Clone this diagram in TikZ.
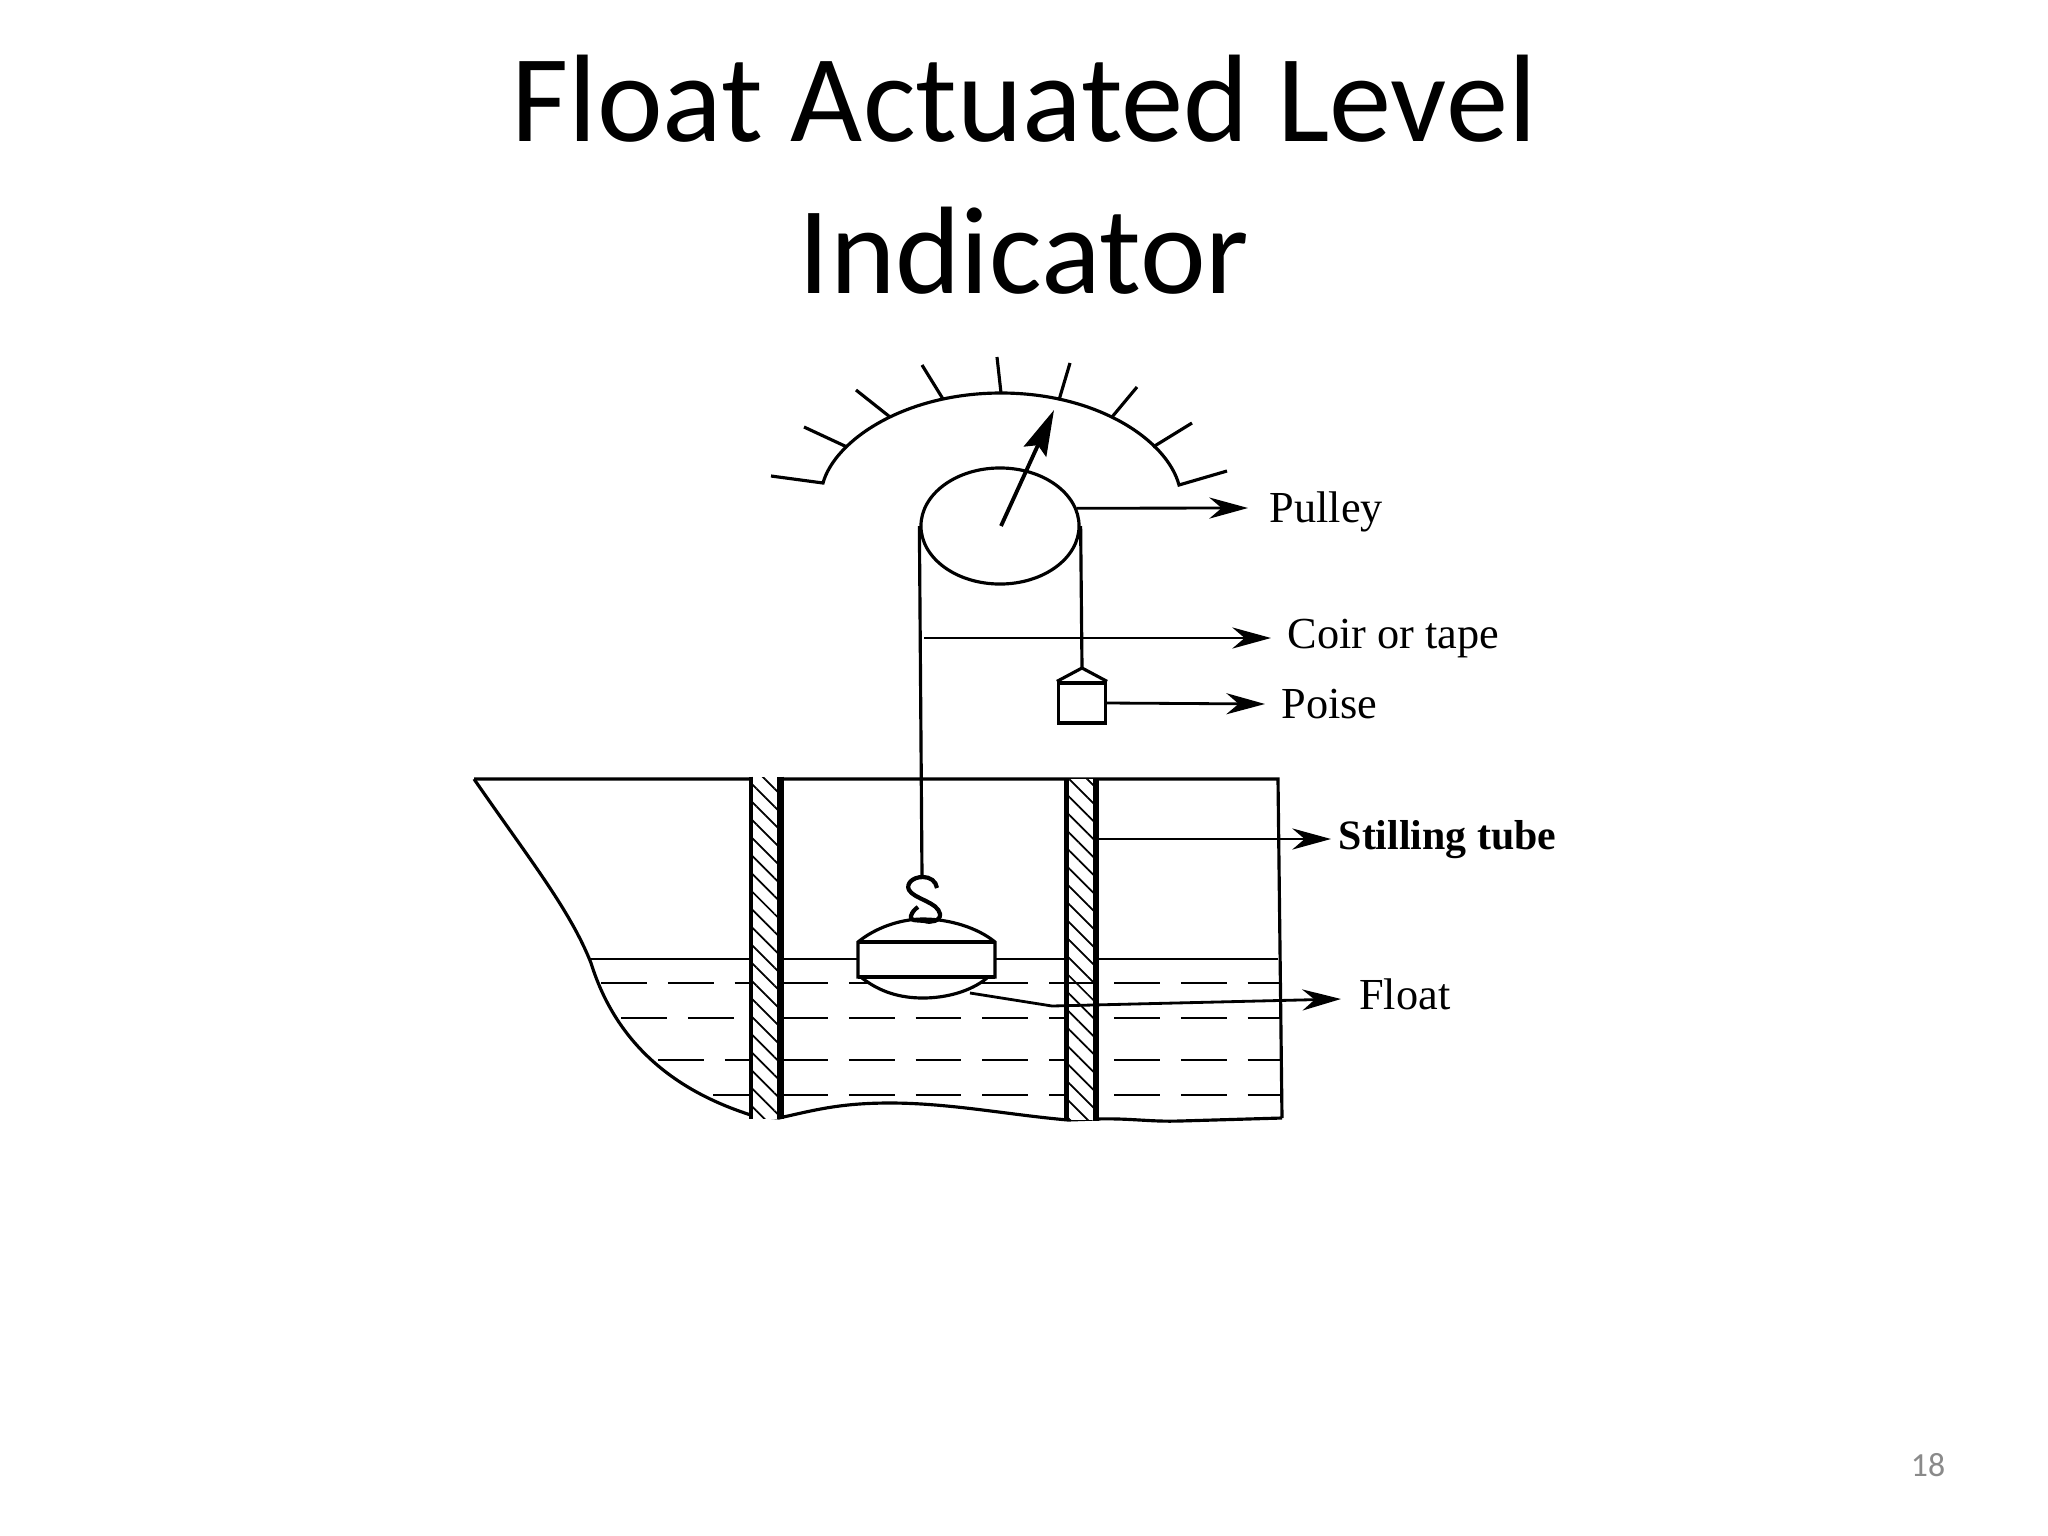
\documentclass[tikz,border=0pt]{standalone}
\usepackage{fontspec}
\setmainfont{Carlito}
\newfontfamily\partfont{Liberation Serif}
\usetikzlibrary{patterns.meta, arrows.meta, shapes.geometric}
\tikzset{
    sketch/.style={line width=0.9pt},
    waterdash/.style={line width=0.8pt, dash pattern=on 13pt off 6pt},
    partarrow/.style={line width=0.8pt, -{Stealth[length=11pt, width=6pt, inset=3.5pt]}},
    partlabel/.style={anchor=west, inner ysep=0pt, inner xsep=#1, text height=8.5pt, text depth=2.5pt,
        font=\partfont\fontsize{12.6}{15}\selectfont},
    tubebox/.style={minimum width=0.28cm, minimum height=3.41cm, inner sep=0pt, preaction={fill=white},
        pattern={Lines[angle=-45, distance=3.6pt, line width=0.5pt]}},
}

\begin{document}
\begin{tikzpicture}[x=0.01cm, y=-0.01cm]
    \fill[white] (0,0) rectangle (2048,1536);
    \useasboundingbox (0,0) rectangle (2048,1536);

    \node[align=center, font=\fontsize{35.4}{43.2}\selectfont] (title) at (1024,175) {Float Actuated Level\\Indicator};
    \node[text=black!46, font=\fontsize{9.6}{12}\selectfont] (pagenum) at (1928,1465) {18};

    \draw[sketch] (771,476) -- (823,483) .. controls (835,440) and (905,393) .. (1001,393) .. controls (1097,393) and (1167,440) .. (1179,485) -- (1227,471);
    \foreach \xa/\ya/\xb/\yb in {804/427/847/447, 856/390/890/417, 922/365/943/399, 997/357/1001/393, 1070/363/1059/400, 1137/387/1112/417, 1192/423/1153/447}
        \draw[sketch] (\xa,\ya) -- (\xb,\yb);

    \node[draw, sketch, ellipse, minimum width=1.58cm, minimum height=1.16cm, inner sep=0pt] (pulley) at (1000,526) {};
    \coordinate (pivot) at (1001,526);
    \coordinate (needletip) at (1054,410);
    \draw[line width=1.1pt, -{Stealth[length=13pt, width=7pt, inset=2pt]}] (pivot) -- (needletip);

    \node[draw, sketch, minimum width=0.47cm, minimum height=0.40cm, inner sep=0pt] (poise) at (1082,703) {};
    \coordinate (apex) at (1082,668);
    \draw[sketch] (poise.north west) -- (apex) -- (poise.north east);
    \draw[sketch] (pulley.east) -- (apex);

    \coordinate (hooktop) at (922,876);
    \draw[sketch] (pulley.west) -- (hooktop);
    \coordinate (coirstart) at (924,638);

    \foreach \ypos/\xstart in {983/601, 1018/621, 1060/658, 1095/713} {
        \draw[waterdash] (\xstart,\ypos) -- (752,\ypos);
        \draw[waterdash] (782,\ypos) -- (1068,\ypos);
        \draw[waterdash] (1114,\ypos) -- (1280,\ypos);
    }
    \draw[line width=0.8pt] (589,959) -- (1278,959);

    \draw[sketch] (474,779) -- (1278,779) -- (1282,1118);
    \draw[sketch] (474,779) .. controls (530,860) and (570,910) .. (591,963) .. controls (615,1040) and (670,1090) .. (754,1116);
    \draw[sketch] (754,1116) -- (779,1118) .. controls (815,1110) and (840,1103) .. (890,1103) .. controls (950,1103) and (1010,1115) .. (1068,1120);
    \draw[sketch] (1068,1120) -- (1096,1119) .. controls (1130,1118) and (1150,1122) .. (1180,1121) -- (1282,1118);

    \node[tubebox] (tubeleft) at (765.5,948) {};
    \node[tubebox] (tuberight) at (1081,949.5) {};
    \draw[line width=1.2pt] (tubeleft.north west) -- (tubeleft.south west);
    \draw[line width=1.8pt] (tubeleft.north east) -- (tubeleft.south east);
    \draw[line width=1.5pt] (tuberight.north west) -- (tuberight.south west);
    \draw[line width=1.6pt] (tuberight.north east) -- (tuberight.south east);
    \draw[waterdash] (1068,983) -- (1095,983);

    \draw[sketch, fill=white] (858,977) -- (858,942) .. controls (875,928) and (900,919) .. (923,919) .. controls (950,919) and (978,928) .. (995,942) -- (995,977) -- cycle;
    \draw[sketch] (858,942) -- (995,942);
    \draw[sketch, fill=white] (862,978) .. controls (880,992) and (900,998) .. (923,998) .. controls (945,998) and (970,992) .. (987,978);
    \draw[line width=1.4pt] (858,977) -- (995,977);
    \draw[line width=1.2pt] (937,888) .. controls (936,881) and (930,877) .. (923,877) .. controls (912,877) and (906,884) .. (909,890) .. controls (914,899) and (938,902) .. (940,914) .. controls (941,921) and (930,923) .. (925,921) .. controls (916,920) and (909,921) .. (911,916) .. controls (912,912) and (915,909) .. (918,907);

    \node[partlabel=6pt, text height=10.5pt] (pulleylabel) at (1248,508) {Pulley};
    \node[partlabel=4.5pt] (coirlabel) at (1271,638) {Coir or tape};
    \node[partlabel=4.5pt, text height=10.5pt] (poiselabel) at (1265,704) {Poise};
    \node[partlabel=2pt, font=\partfont\bfseries\fontsize{11.9}{15}\selectfont] (stillinglabel) at (1331,839) {Stilling tube};
    \node[partlabel=5pt] (floatlabel) at (1341,999) {Float};

    \draw[partarrow] (pulley.13) -- (pulleylabel.west);
    \draw[partarrow] (coirstart) -- (coirlabel.west);
    \draw[partarrow] (poise.east) -- (poiselabel.west);
    \draw[partarrow] (tuberight.east |- stillinglabel.west) -- (stillinglabel.west);
    \coordinate (floatedge) at (970,993);
    \coordinate (floatbend) at (1052,1006);
    \draw[partarrow] (floatedge) -- (floatbend) -- (1134,1004) -- (floatlabel.west);
\end{tikzpicture}
\end{document}
